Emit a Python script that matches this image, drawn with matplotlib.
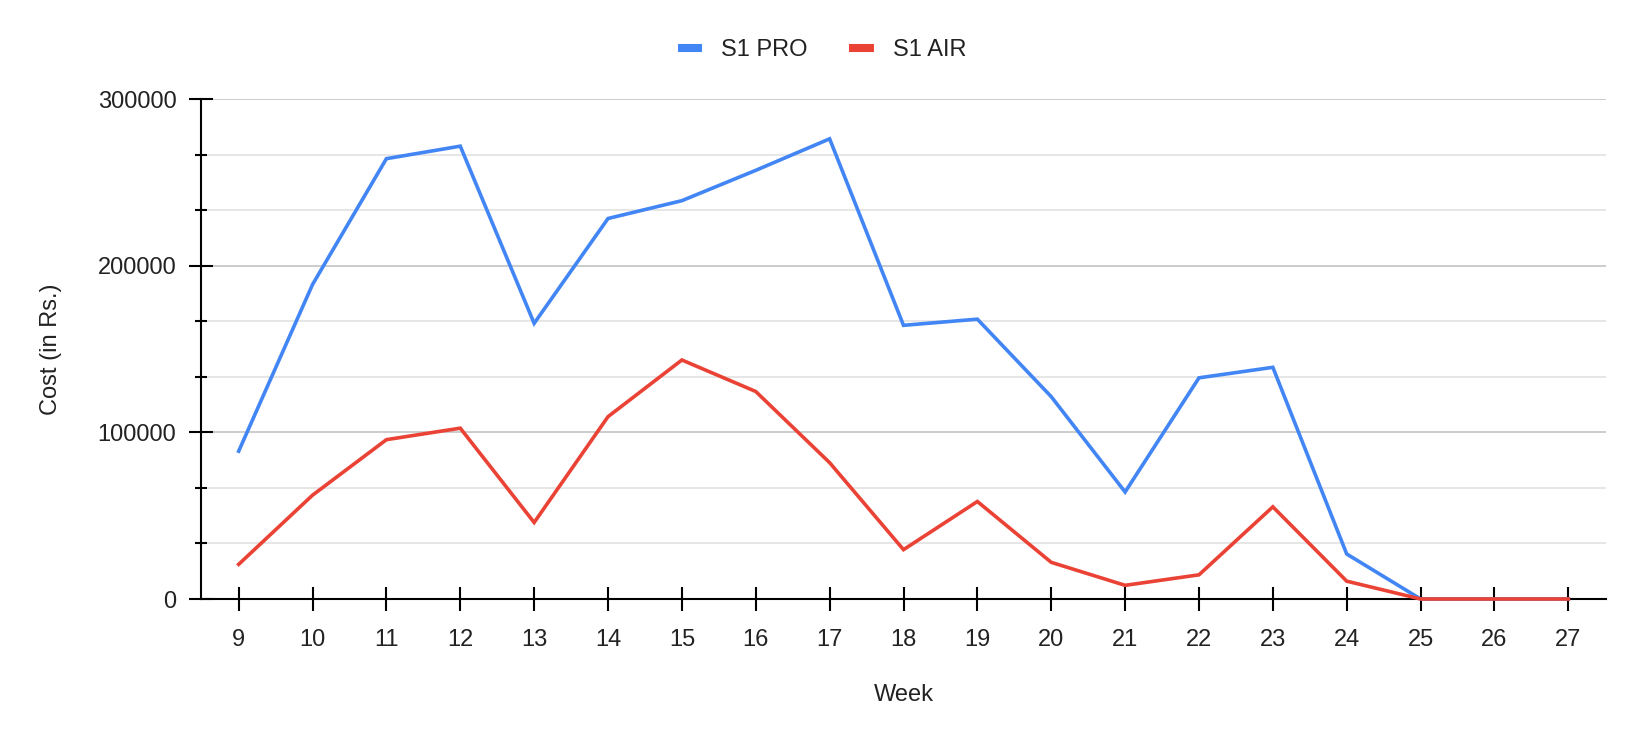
import matplotlib
matplotlib.use("Agg")
import matplotlib.pyplot as plt
from matplotlib.ticker import MultipleLocator

weeks = list(range(9, 28))
s1_pro = [88700, 188700, 264200, 271700, 165400, 228300, 239000, 257200, 276100,
          164200, 167900, 121400, 64200, 132700, 139000, 27000, 0, 0, 0]
s1_air = [20800, 62300, 95600, 102500, 45900, 109400, 143400, 124500, 81800,
          29600, 58500, 22000, 8200, 14500, 55300, 10700, 0, 0, 0]
series_names = ["S1 PRO", "S1 AIR"]
colors = ["#4285F4", "#EA4335"]

plt.rcParams['font.family'] = ['Liberation Sans', 'DejaVu Sans']

fig = plt.figure(figsize=(16.44, 7.44), dpi=100)
ax = fig.add_axes([201/1644, 1 - 599/744, (1606-201)/1644, (599-99)/744])

for i, (vals, name, c) in enumerate(zip([s1_pro, s1_air], series_names, colors)):
    ax.plot(weeks, vals, color=c, lw=2.6, label=name, clip_on=False, zorder=5 + i,
            solid_joinstyle='miter')

ax.set_xlim(8.49, 27.51)
ax.set_ylim(0, 300000)
ax.set_xticks(weeks)
ax.yaxis.set_major_locator(MultipleLocator(100000))
ax.yaxis.set_minor_locator(MultipleLocator(100000/3))

ax.grid(True, which='major', axis='y', color='#c8c8c8', lw=1.3, zorder=0)
ax.grid(True, which='minor', axis='y', color='#e4e4e4', lw=1.3, zorder=0)

for s in ['top', 'right']:
    ax.spines[s].set_visible(False)
ax.spines['left'].set_linewidth(1.5)
ax.spines['bottom'].set_linewidth(1.5)
ax.spines['left'].set_zorder(4)
ax.spines['bottom'].set_zorder(4)

ax.tick_params(axis='both', which='major', direction='inout', length=17.3, width=1.5,
               labelsize=17, labelcolor='#222222')
ax.tick_params(axis='y', which='minor', direction='inout', length=8.6, width=1.5)
ax.tick_params(axis='y', which='major', pad=9)
ax.tick_params(axis='x', which='major', pad=13)

ax.set_ylabel("Cost (in Rs.)", fontsize=17, color='#222222', labelpad=26)
ax.set_xlabel("Week", fontsize=17, color='#222222', labelpad=24)

leg = fig.legend(loc='center', bbox_to_anchor=(0.5, 1 - 50/744), ncol=2, frameon=False,
                 fontsize=17, handlelength=1.05, handletextpad=0.8, columnspacing=1.75)
for line in leg.get_lines():
    line.set_linewidth(5.8)
    line.set_solid_capstyle('butt')
for t in leg.get_texts():
    t.set_color('#222222')

fig.savefig("out.png", dpi=100)
